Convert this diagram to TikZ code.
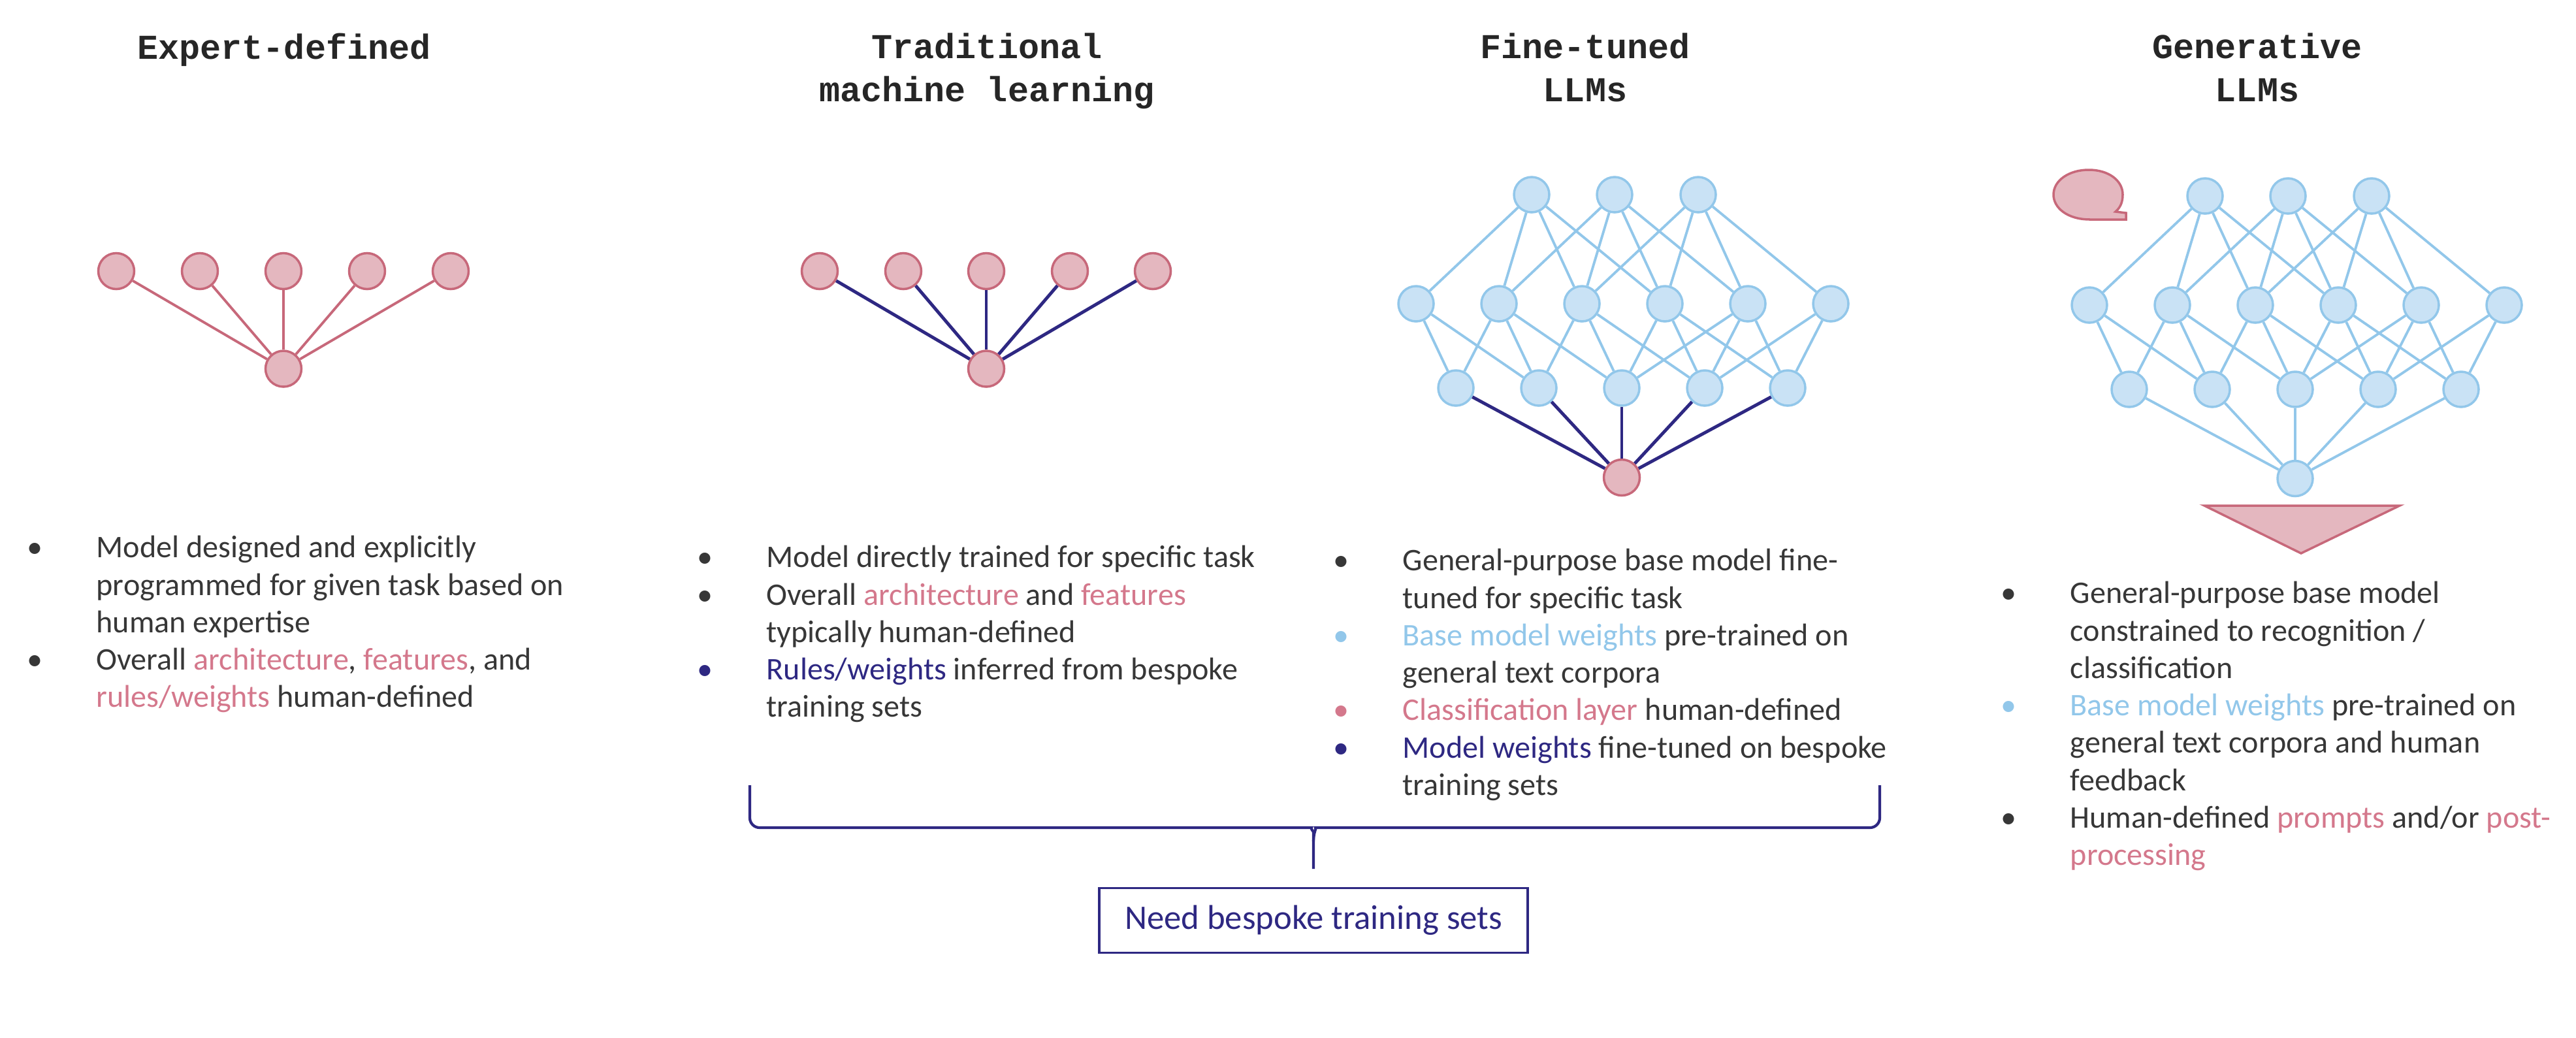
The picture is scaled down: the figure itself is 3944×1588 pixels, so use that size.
\documentclass[tikz,border=0pt]{standalone}
\usepackage{fontspec}
\setmainfont{Carlito}
\setmonofont{Liberation Mono}
\usetikzlibrary{positioning}

\definecolor{rose}{RGB}{199,104,122}
\definecolor{rosefill}{RGB}{228,183,191}
\definecolor{rosetxt}{RGB}{212,120,140}
\definecolor{sky}{RGB}{146,199,234}
\definecolor{skyfill}{RGB}{201,226,245}
\definecolor{navy}{RGB}{46,40,130}
\definecolor{ink}{RGB}{55,55,55}

\newcommand{\rw}[1]{\textcolor{rosetxt}{#1}}
\newcommand{\sw}[1]{\textcolor{sky}{#1}}
\newcommand{\nw}[1]{\textcolor{navy}{#1}}

\begin{document}
\begin{tikzpicture}[x=0.1mm, y=-0.1mm, node distance=9.1mm,
    rosenode/.style = {draw=rose, fill=rosefill, circle, line width=1pt, minimum size=5.5mm, inner sep=0pt},
    skynode/.style = {draw=sky, fill=skyfill, circle, line width=1pt, minimum size=5.4mm, inner sep=0pt},
    roseline/.style = {draw=rose, line width=1.1pt},
    skyline/.style = {draw=sky, line width=1.1pt},
    navyline/.style = {draw=navy, line width=1.4pt},
    roseshape/.style = {draw=rose, fill=rosefill, line width=1pt},
    heading/.style = {font=\ttfamily\bfseries\fontsize{15.2}{18.7}\selectfont, text=black!85, align=center, anchor=north, inner sep=0pt},
    bullets/.style = {font=\fontsize{13.7}{16.3}\selectfont, text=ink, anchor=north west, inner sep=0pt},
    brace/.style = {draw=navy, line width=1.2pt, rounded corners=1.5mm},
    needbox/.style = {draw=navy, line width=0.9pt, text=navy, font=\fontsize{15}{18}\selectfont, minimum width=65.6mm, minimum height=9.9mm}]

    \useasboundingbox (0,0) rectangle (3944,1588);

    % headings
    \node[heading] (h-expert) at (435,50) {Expert-defined};
    \node[heading] (h-trad) at (1511,50) {Traditional\\machine learning};
    \node[heading] (h-ft) at (2427,50) {Fine-tuned\\LLMs};
    \node[heading] (h-gen) at (3456,50) {Generative\\LLMs};

    % expert-defined
    \foreach \i/\x in {1/178,2/306,3/434,4/562,5/690}
        \node[rosenode] (ex-in\i) at (\x,415) {};
    \node[rosenode, below=of ex-in3] (ex-out) {};
    \foreach \i in {1,...,5}
        \draw[roseline] (ex-in\i) -- (ex-out);

    % traditional machine learning
    \foreach \i/\x in {1/1255,2/1383,3/1510,4/1638,5/1765}
        \node[rosenode] (tr-in\i) at (\x,415) {};
    \node[rosenode, below=of tr-in3] (tr-out) {};
    \foreach \i in {1,...,5}
        \draw[navyline] (tr-in\i) -- (tr-out);

    % fine-tuned LLMs
    \foreach \i/\x in {1/2345,2/2472,3/2600}
        \node[skynode] (ft-t\i) at (\x,298) {};
    \foreach \i/\x in {1/2168,2/2295,3/2422,4/2549,5/2676,6/2803}
        \node[skynode] (ft-m\i) at (\x,465) {};
    \foreach \i/\x in {1/2229,2/2356,3/2483,4/2610,5/2737}
        \node[skynode] (ft-l\i) at (\x,594) {};
    \node[rosenode, below=7.9mm of ft-l3] (ft-out) {};

    \foreach \i in {1,2,3}
        \foreach \d in {0,...,3} {
            \pgfmathtruncatemacro{\j}{\i+\d}
            \draw[skyline] (ft-t\i) -- (ft-m\j);
        }
    \foreach \a/\b in {1/1,1/2,2/1,2/2,2/3,3/2,3/3,3/4,4/3,4/4,4/5,5/3,5/4,5/5,6/4,6/5}
        \draw[skyline] (ft-m\a) -- (ft-l\b);
    \foreach \i in {1,...,5}
        \draw[navyline] (ft-l\i) -- (ft-out);

    % generative LLMs
    \foreach \i/\x in {1/3376,2/3503,3/3631}
        \node[skynode] (gen-t\i) at (\x,300) {};
    \foreach \i/\x in {1/3199,2/3326,3/3453,4/3580,5/3707,6/3834}
        \node[skynode] (gen-m\i) at (\x,467) {};
    \foreach \i/\x in {1/3260,2/3387,3/3514,4/3641,5/3768}
        \node[skynode] (gen-l\i) at (\x,596) {};
    \node[skynode, below=7.9mm of gen-l3] (gen-out) {};

    \foreach \i in {1,2,3}
        \foreach \d in {0,...,3} {
            \pgfmathtruncatemacro{\j}{\i+\d}
            \draw[skyline] (gen-t\i) -- (gen-m\j);
        }
    \foreach \a/\b in {1/1,1/2,2/1,2/2,2/3,3/2,3/3,3/4,4/3,4/4,4/5,5/3,5/4,5/5,6/4,6/5}
        \draw[skyline] (gen-m\a) -- (gen-l\b);
    \foreach \i in {1,...,5}
        \draw[skyline] (gen-l\i) -- (gen-out);

    % prompt bubble and post-processing funnel
    \draw[roseshape] (3255,336) -- (3200,336) .. controls (3165,336) and (3144,318) .. (3144,298)
        .. controls (3144,276) and (3168,260) .. (3198,260) .. controls (3228,260) and (3250,276) .. (3250,298)
        .. controls (3250,310) and (3246,318) .. (3239,324) -- (3255,326) -- cycle;
    \draw[roseshape] (3375,774) -- (3674,774) -- (3523,847) -- cycle;

    % bullet texts
    \node[bullets] (txt-expert) at (41,813) {\begin{tabular}{@{}p{10.6mm}@{}l@{}}
        \textbullet & Model designed and explicitly\\
         & programmed for given task based on\\
         & human expertise\\
        \textbullet & Overall \rw{architecture}, \rw{features}, and\\
         & \rw{rules/weights} human-defined
    \end{tabular}};
    \node[bullets] (txt-trad) at (1067,828) {\begin{tabular}{@{}p{10.6mm}@{}l@{}}
        \textbullet & Model directly trained for specific task\\
        \textbullet & Overall \rw{architecture} and \rw{features}\\
         & typically human-defined\\
        \nw{\textbullet} & \nw{Rules/weights} inferred from bespoke\\
         & training sets
    \end{tabular}};
    \node[bullets] (txt-ft) at (2041,833) {\begin{tabular}{@{}p{10.6mm}@{}l@{}}
        \textbullet & General-purpose base model fine-\\
         & tuned for specific task\\
        \sw{\textbullet} & \sw{Base model weights} pre-trained on\\
         & general text corpora\\
        \rw{\textbullet} & \rw{Classification layer} human-defined\\
        \nw{\textbullet} & \nw{Model weights} fine-tuned on bespoke\\
         & training sets
    \end{tabular}};
    \node[bullets] (txt-gen) at (3063,883) {\begin{tabular}{@{}p{10.6mm}@{}l@{}}
        \textbullet & General-purpose base model\\
         & constrained to recognition /\\
         & classification\\
        \sw{\textbullet} & \sw{Base model weights} pre-trained on\\
         & general text corpora and human\\
         & feedback\\
        \textbullet & Human-defined \rw{prompts} and/or \rw{post-}\\
         & \rw{processing}
    \end{tabular}};

    % brace over the two middle columns
    \coordinate (brace-l) at (1148,1202);
    \coordinate (brace-r) at (2878,1202);
    \coordinate (brace-tip) at (2011,1330);
    \draw[brace] (brace-l) |- (1993,1267) .. controls (2006,1267) and (2011,1274) .. (2011,1288) -- (brace-tip);
    \draw[brace] (brace-r) |- (2029,1267) .. controls (2016,1267) and (2011,1274) .. (2011,1288);
    \node[needbox, below=2.8mm of brace-tip] (need) {Need bespoke training sets};
\end{tikzpicture}
\end{document}
